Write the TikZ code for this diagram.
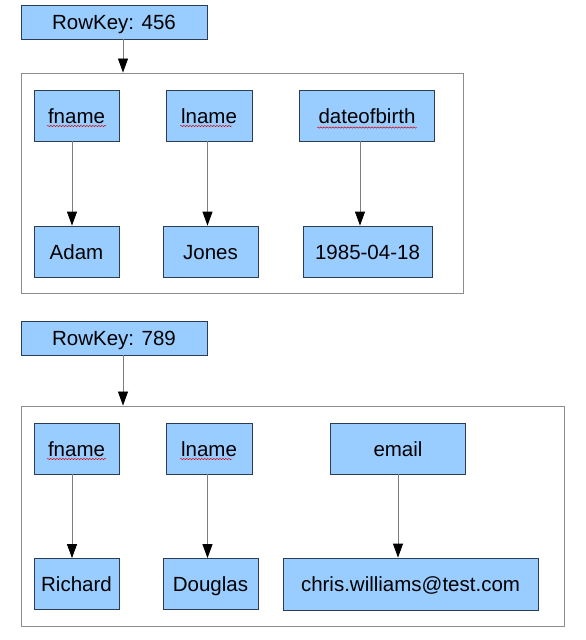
\documentclass[tikz,border=0pt]{standalone}
\usepackage{fontspec}
\setmainfont{Liberation Sans}
\usetikzlibrary{arrows.meta,decorations.pathmorphing}
\definecolor{boxfill}{RGB}{153,204,255}
\definecolor{boxline}{RGB}{45,60,85}
\definecolor{frameline}{RGB}{140,140,140}
\definecolor{connline}{RGB}{125,125,125}
\tikzset{
 cell/.style={draw=boxline, fill=boxfill, line width=0.8pt, inner sep=0pt, minimum height=51pt, text height=15pt, text depth=0pt, font=\fontsize{20.5}{24}\selectfont},
 keybox/.style={cell, minimum height=34pt},
 frame/.style={draw=frameline, line width=0.9pt, inner sep=0pt},
 conn/.style={draw=connline, line width=0.8pt, -{Triangle[width=10pt,length=14pt,black]}},
 squig/.style={draw=red!85!black, line width=0.45pt, decorate, decoration={snake, amplitude=0.7pt, segment length=3pt}}
}
\begin{document}
\begin{tikzpicture}[x=1pt,y=-1pt]
\useasboundingbox (0,0) rectangle (586,640);
% ---- row 456
\node[keybox, minimum width=186pt] (rk1) at (114,22) {RowKey: 456};
\node[frame, minimum width=442pt, minimum height=220pt] (b1) at (242,183) {};
\node[cell, minimum width=85pt] (f1) at (76.5,115.5) {fname};
\node[cell, minimum width=86pt] (l1) at (209,115.5) {lname};
\node[cell, minimum width=135pt] (d1) at (367,115.5) {dateofbirth};
\node[cell, minimum width=85pt] (v1) at (76.5,251.5) {Adam};
\node[cell, minimum width=95pt] (v2) at (210.5,251.5) {Jones};
\node[cell, minimum width=129pt] (v3) at (367.5,251.5) {1985-04-18};
\draw[conn] ([xshift=9pt]rk1.south) -- ([xshift=9pt]rk1.south |- b1.north);
\draw[conn] ([xshift=-4.5pt]f1.south) -- ([xshift=-4.5pt]v1.north);
\draw[conn] ([xshift=-1.5pt]l1.south) -- ([xshift=-1.5pt]l1.south |- v2.north);
\draw[conn] ([xshift=-7pt]d1.south) -- ([xshift=-7pt]d1.south |- v3.north);
\draw[squig] (47,126) -- (106,126);
\draw[squig] (180,126) -- (232,126);
\draw[squig] (317,127.5) -- (417,127.5);
% ---- row 789
\node[keybox, minimum width=186pt] (rk2) at (114,338) {RowKey: 789};
\node[frame, minimum width=543pt, minimum height=220pt] (b2) at (292.5,516) {};
\node[cell, minimum width=85pt] (f2) at (76.5,448.5) {fname};
\node[cell, minimum width=86pt] (l2) at (209,448.5) {lname};
\node[cell, minimum width=135pt] (e2) at (398,448.5) {email};
\node[cell, minimum width=85pt] (w1) at (76.5,584) {Richard};
\node[cell, minimum width=95pt] (w2) at (210.5,584) {Douglas};
\node[cell, minimum width=255pt, minimum height=52pt] (w3) at (410.5,584) {chris.williams@test.com};
\draw[conn] ([xshift=9pt]rk2.south) -- ([xshift=9pt]rk2.south |- b2.north);
\draw[conn] ([xshift=-4.5pt]f2.south) -- ([xshift=-4.5pt]w1.north);
\draw[conn] ([xshift=-1.5pt]l2.south) -- ([xshift=-1.5pt]l2.south |- w2.north);
\draw[conn] (e2.south) -- (e2.south |- w3.north);
\draw[squig] (47,459) -- (106,459);
\draw[squig] (180,459) -- (232,459);
\end{tikzpicture}
\end{document}
